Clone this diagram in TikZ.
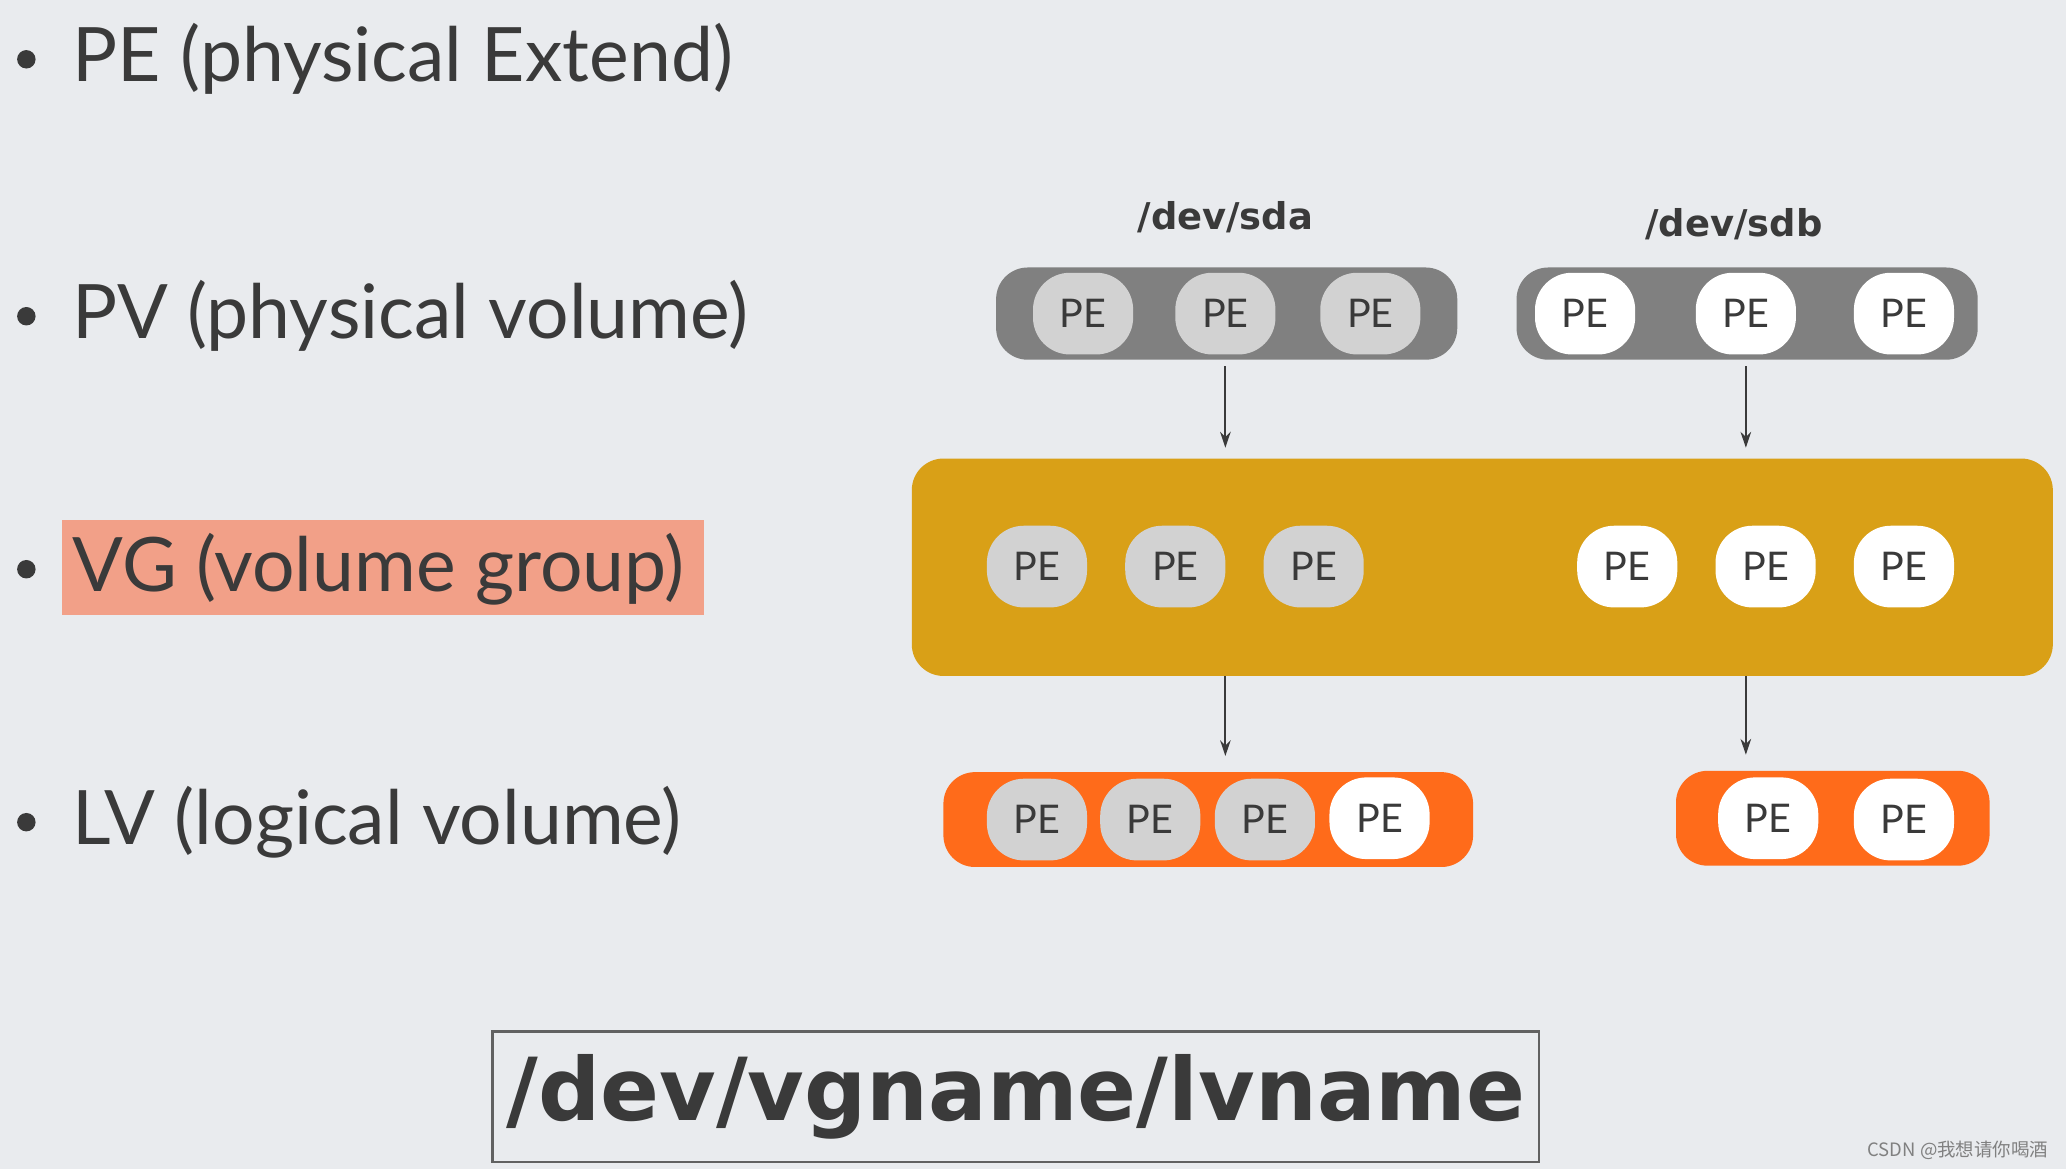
\documentclass[tikz,border=0pt]{standalone}
\usepackage{fontspec}
\setmainfont{Lato}
\newfontfamily\boldsans{DejaVu Sans}
\newfontfamily\cjk{Noto Sans CJK SC}
\usetikzlibrary{arrows.meta}
\definecolor{bgc}{HTML}{E9EBEE}
\definecolor{peg}{HTML}{D2D2D2}
\definecolor{barg}{HTML}{808080}
\definecolor{gold}{HTML}{D9A017}
\definecolor{orng}{HTML}{FF6B1A}
\definecolor{salm}{HTML}{F2A088}
\definecolor{txt}{HTML}{3A3A3A}
\tikzset{
  pe/.style={draw=none,fill=#1,rounded corners=28pt,minimum width=76pt,minimum height=62pt,inner sep=0pt,font=\fontsize{30}{30}\selectfont,text=txt},
  bar/.style={fill=#1,rounded corners=24pt,draw=none},
  bul/.style={anchor=west,font=\fontsize{57}{57}\selectfont,text=txt,inner sep=0pt},
  dot/.style={circle,fill=txt,minimum size=14pt,inner sep=0pt},
  arr/.style={-{Stealth[length=12pt,width=8pt]},line width=1.6pt,draw=txt},
  lbl/.style={font=\boldsans\bfseries\fontsize{28}{28}\selectfont,text=txt}
}
\begin{document}
\begin{tikzpicture}[x=1pt,y=-1pt]
\fill[bgc] (0,0) rectangle (1568,887);
\useasboundingbox (0,0) rectangle (1568,887);
% bullets
\fill[salm] (47,395) rectangle (534,467);
\foreach \y/\t/\n in {45/PE (physical Extend)/b1,240/PV (physical volume)/b2,432/VG (volume group)/b3,624/LV (logical volume)/b4}{
  \node[dot] (d\n) at (20,\y) {};
  \node[bul] (\n) at (55,\y) {\t};
}
% PV bars
\node[bar=barg,minimum width=350pt,minimum height=70pt] (sda) at (931,238) {};
\node[bar=barg,minimum width=350pt,minimum height=70pt] (sdb) at (1326,238) {};
\node[lbl] (lsda) at (930,165) {/dev/sda};
\node[lbl] (lsdb) at (1316,170) {/dev/sdb};
\foreach \x/\n in {822/a1,930/a2,1040/a3}{\node[pe=peg] (\n) at (\x,238) {PE};}
\foreach \x/\n in {1203/b1p,1325/b2p,1445/b3p}{\node[pe=white] (\n) at (\x,238) {PE};}
% VG
\node[bar=gold,minimum width=866pt,minimum height=165pt] (vg) at (1125,430.5) {};
\foreach \x/\n in {787/v1,892/v2,997/v3}{\node[pe=peg] (\n) at (\x,430) {PE};}
\foreach \x/\n in {1235/v4,1340/v5,1445/v6}{\node[pe=white] (\n) at (\x,430) {PE};}
% LVs
\node[bar=orng,minimum width=402pt,minimum height=72pt] (lv1) at (917,622) {};
\node[bar=orng,minimum width=238pt,minimum height=72pt] (lv2) at (1391,621) {};
\foreach \x/\n in {787/l1,873/l2,960/l3}{\node[pe=peg] (\n) at (\x,622) {PE};}
\node[pe=white] (l4) at (1047,621) {PE};
\node[pe=white] (l5) at (1342,621) {PE};
\node[pe=white] (l6) at (1445,622) {PE};
% arrows
\coordinate (s1) at (930,273); \coordinate (s2) at (1325,273);
\coordinate (g1) at (930,513); \coordinate (g2) at (1325,513);
\draw[arr,shorten <=5pt,shorten >=8pt] (s1) -- (s1 |- vg.north);
\draw[arr,shorten <=5pt,shorten >=8pt] (s2) -- (s2 |- vg.north);
\draw[arr,shorten >=12pt] (g1) -- (g1 |- lv1.north);
\draw[arr,shorten >=12pt] (g2) -- (g2 |- lv2.north);
% bottom
\node[draw=txt!80,line width=2pt,minimum width=794pt,minimum height=99pt,font=\boldsans\bfseries\fontsize{66}{66}\selectfont,text=txt] (path) at (771,832.5) {/dev/vgname/lvname};
\node[anchor=east,font=\cjk\fontsize{14}{14}\selectfont,text=gray] (wm) at (1558,873) {CSDN @我想请你喝酒};
\end{tikzpicture}
\end{document}
